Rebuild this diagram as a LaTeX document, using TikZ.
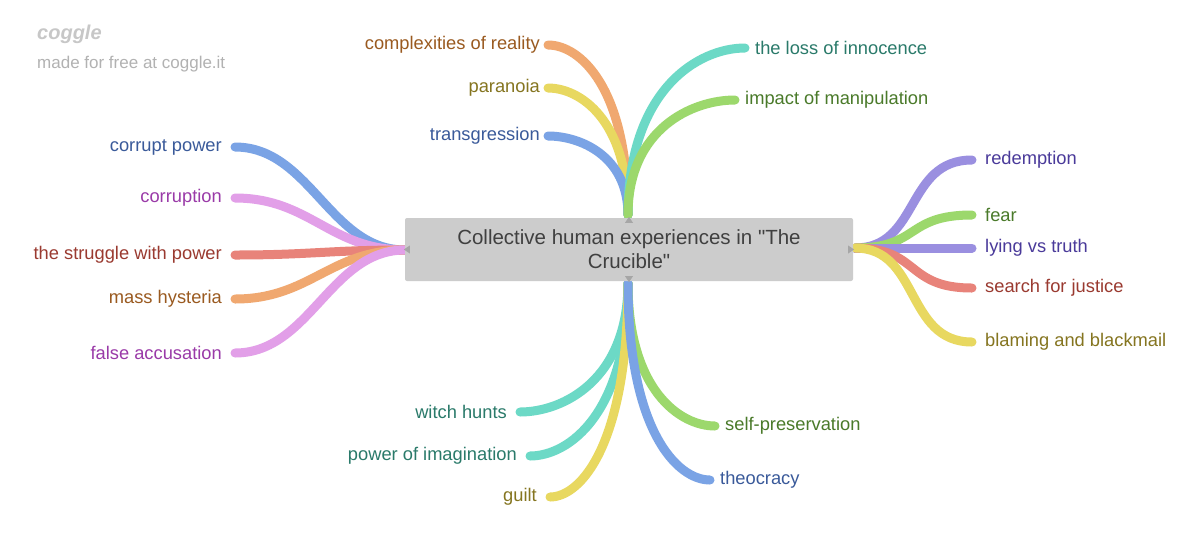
\documentclass[tikz,border=0pt]{standalone}
\usepackage{fontspec}
\setmainfont{Liberation Sans}
\newfontfamily\plainfont[Ligatures=ResetAll]{Liberation Sans}
\definecolor{cb}{HTML}{7AA3E5}\definecolor{tb}{HTML}{3A5A9A}
\definecolor{cp}{HTML}{E29FE8}\definecolor{tp}{HTML}{9A3AA8}
\definecolor{cr}{HTML}{E8837A}\definecolor{tr}{HTML}{9A3A30}
\definecolor{co}{HTML}{F0A870}\definecolor{to}{HTML}{9A5A20}
\definecolor{cy}{HTML}{E8D860}\definecolor{ty}{HTML}{857520}
\definecolor{ct}{HTML}{6CD9C6}\definecolor{tt}{HTML}{2A7A6A}
\definecolor{cg}{HTML}{9CD86C}\definecolor{tg}{HTML}{4A7A2A}
\definecolor{cv}{HTML}{9A8FE0}\definecolor{tv}{HTML}{4A3A9A}
\tikzset{br/.style={line width=9pt,line cap=round},
 lab/.style={font=\fontsize{18.3}{21}\selectfont,inner sep=0pt},
 labL/.style={lab,anchor=east},labR/.style={lab,anchor=west}}
\begin{document}
\begin{tikzpicture}[x=1pt,y=-1pt]
\useasboundingbox[fill=white] (0,0) rectangle (1200,550);
\node[font=\itshape\bfseries\fontsize{20}{22}\selectfont,text=black!22,anchor=west,inner sep=0] (logo) at (37,34) {coggle};
\node[font=\fontsize{17}{20}\selectfont,text=black!30,anchor=west,inner sep=0] (free) at (37,64) {made for free at coggle.it};
\coordinate (L) at (405,250); \coordinate (R) at (855,248);
\coordinate (T) at (628,215); \coordinate (B) at (628,283);
% left
\foreach \y/\c/\t/\tc in {147/cb/corrupt power/tb,198/cp/corruption/tp,255/cr/the struggle with power/tr,299/co/mass hysteria/to,353/cp/false accusation/tp}{
 \coordinate (e) at (235,\y);
 \draw[br,\c] (L) .. controls (330,250) and (310,\y) .. (e);
 \node[labL,text=\tc] at (222,\y) {\t};}
% right
\foreach \y/\c/\t/\tc in {160/cv/redemption/tv,215/cg/fear/tg,248/cv/lying vs truth/tv,288/cr/search for justice/tr,342/cy/blaming and blackmail/ty}{
 \coordinate (e) at (972,\y);
 \draw[br,\c] (R) .. controls (920,248) and (905,\y) .. (e);
 \node[labR,text=\tc] at (985,\y) {\t};}
% top
\foreach \x/\y/\c/\t/\tc/\s in {548/45/co/complexities of reality/to/L,548/88/cy/paranoia/ty/L,548/136/cb/transgression/tb/L,745/48/ct/the loss of innocence/tt/R,735/100/cg/impact of manipulation/tg/R}{
 \coordinate (e) at (\x,\y);
 \draw[br,\c] (T) .. controls (628,{\y+0.25*(215-\y)}) and ({(628+\x)/2+(\x-628)*0.1},\y) .. (e);
 \if\s L\node[labL,text=\tc] at (\x-8,\y) {\t};\else\node[labR,text=\tc] at (\x+10,\y) {\t};\fi}
% bottom
\foreach \x/\y/\c/\t/\tc/\s in {520/412/ct/witch hunts/tt/L,530/456/ct/power of imagination/tt/L,550/497/cy/guilt/ty/L,715/426/cg/self-preservation/tg/R,710/480/cb/theocracy/tb/R}{
 \coordinate (e) at (\x,\y);
 \draw[br,\c] (B) .. controls (628,{\y-0.25*(\y-283)}) and ({(628+\x)/2+(\x-628)*0.1},\y) .. (e);
 \if\s L\node[labL,text=\tc] at (\x-13,\y) {\t};\else\node[labR,text=\tc] at (\x+10,\y) {\t};\fi}
\node[fill=black!20,rounded corners=2pt,minimum width=448pt,minimum height=63pt,align=center,text=black!75,font=\plainfont\fontsize{20.5}{24}\selectfont] (c) at (629,249.5) {Collective human experiences in "The\\Crucible"};
\fill[black!35] (c.west)++(-1,0) -- ++(6,-4) -- ++(0,8) -- cycle;
\fill[black!35] (c.east)++(1,0) -- ++(-6,-4) -- ++(0,8) -- cycle;
\fill[black!35] (c.north)++(0,-1) -- ++(-4,6) -- ++(8,0) -- cycle;
\fill[black!35] (c.south)++(0,1) -- ++(-4,-6) -- ++(8,0) -- cycle;
\end{tikzpicture}
\end{document}
